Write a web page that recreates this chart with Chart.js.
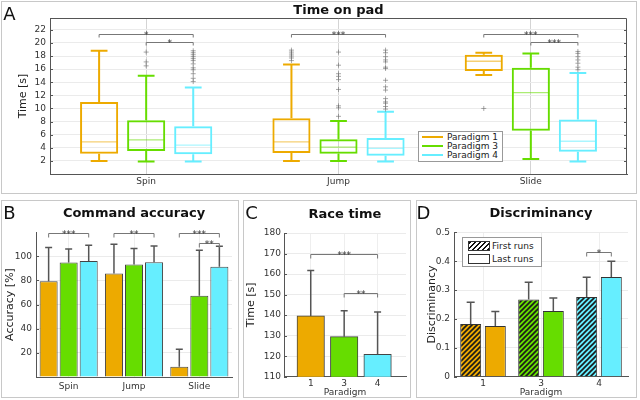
<!DOCTYPE html>
<html lang="en">
<head>
<meta charset="UTF-8">
<title>Pad training results</title>
<script src="https://cdn.jsdelivr.net/npm/chart.js"></script>
<style>
  body { margin: 0; background: #fff; font-family: 'DejaVu Sans', sans-serif; }
  #page { position: relative; width: 640px; height: 400px; overflow: hidden; }
  .panel { position: absolute; border: 1px solid #c8c8c8; box-sizing: border-box; }
  .box { position: absolute; }
  .txt { position: absolute; transform: translate(-50%, -50%); line-height: 1; white-space: nowrap; color: #111; }
  .letter { font-size: 18px; }
  .title { font-size: 13px; font-weight: bold; }
  .legend { position: absolute; border: 1px solid #999; background: #fff; font-size: 9px; color: #222; box-sizing: border-box; }
  .lrow { display: flex; align-items: center; white-space: nowrap; }
  .lline { display: inline-block; width: 21px; height: 2px; margin-right: 4px; }
  .lrect { display: inline-block; width: 22px; height: 10px; border: 1px solid #333; margin-right: 2px; box-sizing: border-box; }
</style>
</head>
<body>
<div id="page">
  <div class="panel" style="left:1px;top:1px;width:636px;height:193px"></div>
  <div class="panel" style="left:1px;top:200px;width:238px;height:198px"></div>
  <div class="panel" style="left:243px;top:200px;width:168px;height:198px"></div>
  <div class="panel" style="left:416px;top:200px;width:221px;height:198px"></div>

  <div class="box" style="left:0;top:0;width:640px;height:196px"><canvas id="padChart" width="640" height="196"></canvas></div>
  <div class="box" style="left:0;top:198px;width:240px;height:202px"><canvas id="accChart" width="240" height="202"></canvas></div>
  <div class="box" style="left:241px;top:198px;width:172px;height:202px"><canvas id="raceChart" width="172" height="202"></canvas></div>
  <div class="box" style="left:414px;top:198px;width:226px;height:202px"><canvas id="discChart" width="226" height="202"></canvas></div>

  <div class="txt letter" style="left:9.5px;top:13.5px">A</div>
  <div class="txt title" style="left:338.5px;top:9px">Time on pad</div>
  <div class="txt letter" style="left:9.5px;top:212.5px">B</div>
  <div class="txt title" style="left:134px;top:212px">Command accuracy</div>
  <div class="txt letter" style="left:251.5px;top:212.5px">C</div>
  <div class="txt title" style="left:345px;top:212.5px">Race time</div>
  <div class="txt letter" style="left:423.5px;top:212.5px">D</div>
  <div class="txt title" style="left:541px;top:212px">Discriminancy</div>

  <div class="legend" style="left:418px;top:131px;width:85px;height:31px;padding:1px 0 0 3px">
    <div class="lrow" style="height:8.7px"><span class="lline" style="background:#EDAA00"></span>Paradigm 1</div>
    <div class="lrow" style="height:8.7px"><span class="lline" style="background:#66DD00"></span>Paradigm 3</div>
    <div class="lrow" style="height:8.7px"><span class="lline" style="background:#66EEFF"></span>Paradigm 4</div>
  </div>
  <div class="legend" style="left:462px;top:237px;width:80px;height:30px;padding:1px 0 0 5px">
    <div class="lrow" style="height:13px"><span class="lrect" style="background:repeating-linear-gradient(135deg,#111 0 1.6px,#fff 1.6px 3.6px)"></span>First runs</div>
    <div class="lrow" style="height:13px"><span class="lrect" style="background:#fff"></span>Last runs</div>
  </div>
</div>

<script>
  // ---- data ----
  const tasks = ['Spin', 'Jump', 'Slide'];
  const paradigms = ['Paradigm 1', 'Paradigm 3', 'Paradigm 4'];
  const paradigmTicks = ['1', '3', '4'];
  const colors = ['#EDAA00', '#66DD00', '#66EEFF'];

  // A: time on pad, box plots, [paradigm][task]
  const padLow  = [[2.0, 2.0, 15.1], [1.9, 2.0, 2.3], [1.9, 1.9, 1.9]];
  const padQ1   = [[3.1, 3.2, 15.7], [3.5, 3.1, 6.6], [3.0, 2.8, 3.4]];
  const padMed  = [[4.9, 4.9, 17.2], [5.2, 4.1, 12.4], [4.4, 3.9, 5.0]];
  const padQ3   = [[11.0, 8.5, 18.2], [8.2, 5.3, 16.2], [7.3, 5.5, 8.3]];
  const padHigh = [[18.8, 16.7, 18.5], [15.0, 8.1, 18.4], [13.2, 9.5, 15.4]];
  const padOutliers = [
    [[], [17.3, 17.7, 18.0, 18.3, 18.6, 18.9], [10.0]],
    [[16.5, 17.1, 18.6], [8.8, 10.1, 10.4, 12.9, 14.4, 14.9, 15.3, 16.6, 18.6], []],
    [[14.1, 14.6, 15.3, 15.9, 16.2, 16.8, 17.3, 17.6, 17.9, 18.2, 18.5, 18.8],
     [9.9, 10.3, 10.8, 11.0, 11.5, 12.8, 13.3, 14.3, 16.1, 16.3, 17.1, 17.4, 17.9, 18.5, 18.9],
     [15.9, 16.3, 16.9, 17.4, 17.9, 18.4, 18.7]]
  ];
  const padSig = [
    { task: 0, from: 0, to: 2, y: 21.4, text: '*' },
    { task: 0, from: 1, to: 2, y: 20.1, text: '*' },
    { task: 1, from: 0, to: 2, y: 21.4, text: '***' },
    { task: 2, from: 0, to: 2, y: 21.4, text: '***' },
    { task: 2, from: 1, to: 2, y: 20.1, text: '***' }
  ];

  // B: command accuracy [paradigm][task]
  const accMean = [[79.3, 85.7, 8.5], [94.7, 93.2, 67.3], [96.1, 95.0, 91.2]];
  const accSd   = [[27.9, 24.2, 14.5], [11.3, 13.1, 37.7], [12.9, 13.5, 17.0]];
  const accSig = [
    { task: 0, from: 0, to: 2, y: 119.4, text: '***' },
    { task: 1, from: 0, to: 2, y: 119.4, text: '**' },
    { task: 2, from: 0, to: 2, y: 119.4, text: '***' },
    { task: 2, from: 1, to: 2, y: 111.3, text: '**' }
  ];

  // C: race time per paradigm
  const raceMean = [139.6, 129.5, 120.9];
  const raceSd   = [22.1, 12.6, 20.6];
  const raceSig = [
    { from: 0, to: 2, y: 169.8, text: '***' },
    { from: 1, to: 2, y: 150.7, text: '**' }
  ];

  // D: discriminancy, first vs last runs
  const discFirst   = [0.1825, 0.267, 0.276];
  const discFirstSd = [0.075, 0.060, 0.068];
  const discLast    = [0.1755, 0.2275, 0.345];
  const discLastSd  = [0.0505, 0.045, 0.055];
  const discSig = [{ cat: 2, y: 0.432, text: '*' }];

  // ---- helpers / plugins ----
  Chart.defaults.font.family = "'DejaVu Sans', sans-serif";
  Chart.defaults.font.size = 9;
  Chart.defaults.color = '#333';

  function hatch(color) {
    const c = document.createElement('canvas');
    c.width = 5; c.height = 5;
    const g = c.getContext('2d');
    g.fillStyle = color;
    g.fillRect(0, 0, 5, 5);
    g.strokeStyle = '#1a1a1a';
    g.lineWidth = 1.6;
    g.beginPath();
    g.moveTo(-1, 6); g.lineTo(6, -1);
    g.moveTo(-1, 1); g.lineTo(1, -1);
    g.moveTo(4, 6); g.lineTo(6, 4);
    g.stroke();
    return g.createPattern(c, 'repeat');
  }

  // brackets: items hold [datasetIndex, dataIndex] pairs a, b
  const sigPlugin = {
    id: 'sig',
    afterDatasetsDraw(chart, args, opts) {
      const ctx = chart.ctx, ys = chart.scales.y;
      ctx.save();
      ctx.strokeStyle = '#777';
      ctx.lineWidth = 1;
      ctx.fillStyle = '#333';
      ctx.font = "9px 'DejaVu Sans'";
      ctx.textAlign = 'center';
      opts.items.forEach(s => {
        const x1 = chart.getDatasetMeta(s.a[0]).data[s.a[1]].x;
        const x2 = chart.getDatasetMeta(s.b[0]).data[s.b[1]].x;
        const y = Math.round(ys.getPixelForValue(s.y)) + 0.5;
        ctx.beginPath();
        ctx.moveTo(x1, y + opts.tick);
        ctx.lineTo(x1, y);
        ctx.lineTo(x2, y);
        ctx.lineTo(x2, y + opts.tick);
        ctx.stroke();
        ctx.fillText(s.text, (x1 + x2) / 2, y + 3);
      });
      ctx.restore();
    }
  };

  // upward error bars, dataset.sd holds the deviations
  const errPlugin = {
    id: 'err',
    afterDatasetsDraw(chart, args, opts) {
      const ctx = chart.ctx, ys = chart.scales.y;
      ctx.save();
      ctx.strokeStyle = '#555';
      ctx.lineWidth = 1.5;
      chart.data.datasets.forEach((ds, i) => {
        if (!ds.sd) return;
        const meta = chart.getDatasetMeta(i);
        meta.data.forEach((el, j) => {
          const v = meta.controller.getParsed(j).y;
          const top = ys.getPixelForValue(v + ds.sd[j]);
          ctx.beginPath();
          ctx.moveTo(el.x, el.y);
          ctx.lineTo(el.x, top);
          ctx.moveTo(el.x - opts.cap, top);
          ctx.lineTo(el.x + opts.cap, top);
          ctx.stroke();
        });
      });
      ctx.restore();
    }
  };

  // whiskers, medians and outliers on top of the floating q1..q3 bars
  const boxPlugin = {
    id: 'boxes',
    afterDatasetsDraw(chart) {
      const ctx = chart.ctx, ys = chart.scales.y;
      const py = v => ys.getPixelForValue(v);
      ctx.save();
      chart.data.datasets.forEach((ds, i) => {
        const meta = chart.getDatasetMeta(i);
        meta.data.forEach((el, j) => {
          const x = el.x, half = el.width / 2, cap = el.width * 0.22;
          ctx.strokeStyle = ds.borderColor;
          ctx.lineWidth = 2;
          ctx.beginPath();
          ctx.moveTo(x, py(padQ3[i][j])); ctx.lineTo(x, py(padHigh[i][j]));
          ctx.moveTo(x - cap, py(padHigh[i][j])); ctx.lineTo(x + cap, py(padHigh[i][j]));
          ctx.moveTo(x, py(padQ1[i][j])); ctx.lineTo(x, py(padLow[i][j]));
          ctx.moveTo(x - cap, py(padLow[i][j])); ctx.lineTo(x + cap, py(padLow[i][j]));
          ctx.stroke();
          ctx.globalAlpha = 0.55;
          ctx.lineWidth = 1.3;
          ctx.beginPath();
          ctx.moveTo(x - half + 1, py(padMed[i][j]));
          ctx.lineTo(x + half - 1, py(padMed[i][j]));
          ctx.stroke();
          ctx.globalAlpha = 1;
          ctx.strokeStyle = 'rgba(110,110,110,0.6)';
          ctx.lineWidth = 1;
          padOutliers[i][j].forEach(v => {
            const y = py(v);
            ctx.beginPath();
            ctx.moveTo(x - 2.5, y); ctx.lineTo(x + 2.5, y);
            ctx.moveTo(x, y - 2.5); ctx.lineTo(x, y + 2.5);
            ctx.stroke();
          });
        });
      });
      ctx.restore();
    }
  };

  // inward ticks, plus top/right frame for panel A
  const framePlugin = {
    id: 'frame',
    afterDraw(chart, args, opts) {
      const ctx = chart.ctx, a = chart.chartArea, ys = chart.scales.y;
      ctx.save();
      ctx.strokeStyle = '#555';
      ctx.lineWidth = 1;
      ctx.beginPath();
      if (opts.box) {
        ctx.moveTo(a.left, a.top + 0.5);
        ctx.lineTo(a.right - 0.5, a.top + 0.5);
        ctx.lineTo(a.right - 0.5, a.bottom);
      }
      ys.ticks.forEach(t => {
        if (t.label === '') return;
        const y = Math.round(ys.getPixelForValue(t.value)) + 0.5;
        ctx.moveTo(a.left, y); ctx.lineTo(a.left + 3, y);
        if (opts.box) { ctx.moveTo(a.right, y); ctx.lineTo(a.right - 3, y); }
      });
      ctx.stroke();
      ctx.restore();
    }
  };

  function yAxis(o) {
    return {
      min: o.min, max: o.max,
      afterFit: s => { s.width = o.width; },
      border: { display: true, color: '#555', width: 1 },
      grid: { drawTicks: false, color: c => (o.hide.includes(c.tick.value) ? 'rgba(0,0,0,0)' : '#ebebeb') },
      ticks: {
        stepSize: o.step, includeBounds: false, padding: o.pad, color: '#333',
        callback: v => (o.hide.includes(v) ? '' : o.fmt(v))
      },
      title: { display: true, text: o.title, color: '#222', font: { size: 11 }, padding: { top: o.titlePad, bottom: 0 } }
    };
  }

  function catAxis(height, pad, gridColor, title) {
    return {
      type: 'category', offset: true,
      afterFit: s => { s.height = height; },
      border: { display: true, color: '#555', width: 1 },
      grid: { drawTicks: false, offset: false, color: gridColor },
      ticks: { padding: pad, maxRotation: 0, autoSkip: false, color: '#333' },
      title: title ? { display: true, text: title, color: '#333', font: { size: 9 }, padding: { top: 0, bottom: 2 } } : { display: false }
    };
  }

  const common = {
    responsive: false,
    animation: false,
    events: []
  };

  // ---- A: time on pad ----
  new Chart(document.getElementById('padChart'), {
    type: 'bar',
    data: {
      labels: tasks,
      datasets: paradigms.map((p, i) => ({
        label: p,
        data: tasks.map((t, j) => [padQ1[i][j], padQ3[i][j]]),
        backgroundColor: 'rgba(0,0,0,0)',
        borderColor: colors[i],
        borderWidth: 2,
        borderSkipped: false,
        categoryPercentage: 0.734,
        barPercentage: 0.81
      }))
    },
    options: {
      ...common,
      layout: { padding: { left: 0, top: 18, right: 13, bottom: 0 } },
      plugins: {
        legend: { display: false }, tooltip: { enabled: false },
        sig: { tick: 3, items: padSig.map(s => ({ a: [s.from, s.task], b: [s.to, s.task], y: s.y, text: s.text })) },
        frame: { box: true }
      },
      scales: {
        x: catAxis(22, 2, '#d4d4d4'),
        y: yAxis({ min: 0, max: 23.8, step: 2, width: 50, pad: 4, hide: [0], fmt: v => v, title: 'Time [s]', titlePad: 16.4 })
      }
    },
    plugins: [boxPlugin, sigPlugin, framePlugin]
  });

  // ---- B: command accuracy ----
  new Chart(document.getElementById('accChart'), {
    type: 'bar',
    data: {
      labels: tasks,
      datasets: paradigms.map((p, i) => ({
        label: p,
        data: accMean[i],
        sd: accSd[i],
        backgroundColor: colors[i],
        borderColor: '#444',
        borderWidth: 1,
        categoryPercentage: 0.92,
        barPercentage: 0.9
      }))
    },
    options: {
      ...common,
      layout: { padding: { left: 0, top: 34, right: 8, bottom: 0 } },
      plugins: {
        legend: { display: false }, tooltip: { enabled: false },
        err: { cap: 3.5 },
        sig: { tick: 4, items: accSig.map(s => ({ a: [s.from, s.task], b: [s.to, s.task], y: s.y, text: s.text })) },
        frame: { box: false }
      },
      scales: {
        x: catAxis(23, 4.5, '#eeeeee'),
        y: yAxis({ min: 0, max: 120, step: 20, width: 36, pad: 4, hide: [0, 120], fmt: v => v, title: 'Accuracy [%]', titlePad: 3.4 })
      }
    },
    plugins: [errPlugin, sigPlugin, framePlugin]
  });

  // ---- C: race time ----
  new Chart(document.getElementById('raceChart'), {
    type: 'bar',
    data: {
      datasets: [{
        label: 'Race time',
        data: raceMean.map((v, i) => ({ x: i + 1, y: v })),
        sd: raceSd,
        backgroundColor: colors,
        borderColor: '#444',
        borderWidth: 1,
        barThickness: 27.5
      }]
    },
    options: {
      ...common,
      layout: { padding: { left: 0, top: 35, right: 7, bottom: 0 } },
      plugins: {
        legend: { display: false }, tooltip: { enabled: false },
        err: { cap: 3.5 },
        sig: { tick: 4, items: raceSig.map(s => ({ a: [0, s.from], b: [0, s.to], y: s.y, text: s.text })) },
        frame: { box: false }
      },
      scales: {
        x: {
          type: 'linear', min: 0.2, max: 3.85, offset: false,
          afterFit: s => { s.height = 23.3; },
          border: { display: true, color: '#555', width: 1 },
          grid: { drawTicks: false, offset: false, color: '#eeeeee' },
          ticks: { stepSize: 1, includeBounds: false, padding: 1.5, color: '#333', callback: v => paradigmTicks[v - 1] ?? '' },
          title: { display: true, text: 'Paradigm', color: '#333', font: { size: 9 }, padding: { top: 0, bottom: 2 } }
        },
        y: yAxis({ min: 110, max: 180, step: 10, width: 43, pad: 3, hide: [], fmt: v => v, title: 'Time [s]', titlePad: 3.4 })
      }
    },
    plugins: [errPlugin, sigPlugin, framePlugin]
  });

  // ---- D: discriminancy ----
  new Chart(document.getElementById('discChart'), {
    type: 'bar',
    data: {
      labels: paradigmTicks,
      datasets: [
        {
          label: 'First runs',
          data: discFirst,
          sd: discFirstSd,
          backgroundColor: colors.map(hatch),
          borderColor: '#333',
          borderWidth: 1,
          categoryPercentage: 0.85,
          barPercentage: 0.85
        },
        {
          label: 'Last runs',
          data: discLast,
          sd: discLastSd,
          backgroundColor: colors,
          borderColor: '#333',
          borderWidth: 1,
          categoryPercentage: 0.85,
          barPercentage: 0.85
        }
      ]
    },
    options: {
      ...common,
      layout: { padding: { left: 0, top: 34.3, right: 12, bottom: 0 } },
      plugins: {
        legend: { display: false }, tooltip: { enabled: false },
        err: { cap: 4 },
        sig: { tick: 4, items: discSig.map(s => ({ a: [0, s.cat], b: [1, s.cat], y: s.y, text: s.text })) },
        frame: { box: false }
      },
      scales: {
        x: catAxis(23.3, 1.5, '#eeeeee', 'Paradigm'),
        y: yAxis({ min: 0, max: 0.5, step: 0.1, width: 40, pad: 4, hide: [], fmt: v => (Math.round(v * 10) / 10).toString(), title: 'Discriminancy', titlePad: 11.1 })
      }
    },
    plugins: [errPlugin, sigPlugin, framePlugin]
  });
</script>
</body>
</html>
